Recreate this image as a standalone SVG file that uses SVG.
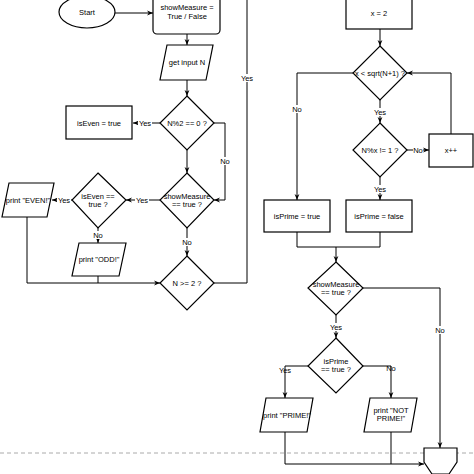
<svg xmlns="http://www.w3.org/2000/svg" width="474" height="474" viewBox="0 0 474 474">
<defs><marker id="a" viewBox="0 0 10 10" refX="10" refY="5" markerWidth="6" markerHeight="6" orient="auto"><path d="M0,1 L10,5 L0,9 L3,5 z" fill="#000"/></marker></defs>
<style>
.s{fill:#fff;stroke:#000;stroke-width:1.2}
.c{fill:none;stroke:#000;stroke-width:1;marker-end:url(#a)}
.l{fill:none;stroke:#000;stroke-width:1}
text{font-family:"Liberation Sans",Arial,sans-serif;font-size:7.5px;text-anchor:middle;fill:#000}
.lb{font-size:6.5px}
.bg{fill:#fff}
</style>
<rect width="474" height="474" fill="#fff"/>
<line x1="0" y1="453" x2="474" y2="453" stroke="#aaa" stroke-dasharray="4,3"/>
<g id="connectors">
<path class="c" d="M115,13 H153"/>
<path class="c" d="M187,34 V45"/>
<path class="c" d="M187,80 V96"/>
<path class="c" d="M160,123 H133"/>
<path class="c" d="M214,123 H225 V200 H214"/>
<path class="c" d="M187,150 V173"/>
<path class="c" d="M160,200 H126"/>
<path class="c" d="M72,200 H52"/>
<path class="c" d="M98,228 V243"/>
<path class="c" d="M27,217 V283 H160"/>
<path class="l" d="M98,283 V276"/>
<path class="c" d="M187,228 V256"/>
<path class="l" d="M214,283 H247 V0"/>
<path class="c" d="M380,29 V46"/>
<path class="c" d="M353,73 H297 V200"/>
<path class="c" d="M380,100 V123"/>
<path class="c" d="M407,150 H429"/>
<path class="c" d="M451,134 V73 H407"/>
<path class="c" d="M380,177 V200"/>
<path class="l" d="M297,232 V247 H380 V232"/>
<path class="c" d="M336,247 V262"/>
<path class="c" d="M363,288 H440 V448"/>
<path class="c" d="M336,315 V338"/>
<path class="c" d="M308,366 H285 V398"/>
<path class="c" d="M363,366 H391 V398"/>
<path class="c" d="M285,432 V464 H424"/>
<path class="l" d="M391,432 V464"/>
<g class="lb">
<rect class="bg" x="138" y="119" width="14" height="8"/><text x="145" y="125.5">Yes</text>
<rect class="bg" x="220" y="157" width="10" height="8"/><text x="225" y="163.5">No</text>
<rect class="bg" x="135" y="196" width="14" height="8"/><text x="142" y="202.5">Yes</text>
<rect class="bg" x="57" y="196" width="14" height="8"/><text x="64" y="202.5">Yes</text>
<rect class="bg" x="93" y="231" width="10" height="8"/><text x="98" y="237.5">No</text>
<rect class="bg" x="182" y="238" width="10" height="8"/><text x="187" y="244.5">No</text>
<rect class="bg" x="240" y="74" width="14" height="8"/><text x="247" y="80.5">Yes</text>
<rect class="bg" x="292" y="105" width="10" height="8"/><text x="297" y="111.5">No</text>
<rect class="bg" x="373" y="108" width="14" height="8"/><text x="380" y="114.5">Yes</text>
<rect class="bg" x="413" y="146" width="10" height="8"/><text x="418" y="152.5">No</text>
<rect class="bg" x="373" y="185" width="14" height="8"/><text x="380" y="191.5">Yes</text>
<rect class="bg" x="435" y="326" width="10" height="8"/><text x="440" y="332.5">No</text>
<rect class="bg" x="329" y="323" width="14" height="8"/><text x="336" y="329.5">Yes</text>
<text x="285" y="373">Yes</text>
<text x="391" y="371">No</text>
</g>
</g>
<g id="start"><ellipse class="s" cx="87" cy="12" rx="28" ry="16"/><text x="87" y="15">Start</text></g>
<g id="showMeasureInit"><rect class="s" x="153" y="-5" width="67" height="39" rx="4"/><text x="187" y="10">showMeasure =</text><text x="187" y="19">True / False</text></g>
<g id="getInput"><polygon class="s" points="167,45 213,45 206,80 160,80"/><text x="187" y="65">get input N</text></g>
<g id="mod2"><polygon class="s" points="187,96 214,123 187,150 160,123"/><text x="187" y="126">N%2 == 0 ?</text></g>
<g id="isEvenTrue"><rect class="s" x="66" y="106" width="66" height="33"/><text x="99" y="126">isEven = true</text></g>
<g id="showMeasure1"><polygon class="s" points="187,173 214,200 187,228 160,200"/><text x="187" y="199">showMeasure</text><text x="187" y="207">== true ?</text></g>
<g id="isEvenCheck"><polygon class="s" points="98,173 126,200 98,228 72,200"/><text x="98" y="199">isEven ==</text><text x="98" y="207">true ?</text></g>
<g id="printEven"><polygon class="s" points="9,183 54,183 47,217 2,217"/><text x="28" y="203">print "EVEN!"</text></g>
<g id="printOdd"><polygon class="s" points="79,243 126,243 119,276 72,276"/><text x="99" y="262">print "ODD!"</text></g>
<g id="nGe2"><polygon class="s" points="187,256 214,283 187,310 160,283"/><text x="187" y="286">N &gt;= 2 ?</text></g>
<g id="xInit"><rect class="s" x="346" y="-5" width="66" height="34"/><text x="379" y="16">x = 2</text></g>
<g id="xLoop"><polygon class="s" points="380,46 407,73 380,100 353,73"/><text x="380" y="76">x &lt; sqrt(N+1) ?</text></g>
<g id="modX"><polygon class="s" points="380,123 407,150 380,177 353,150"/><text x="380" y="153">N%x != 1 ?</text></g>
<g id="xInc"><rect class="s" x="429" y="134" width="44" height="33"/><text x="451" y="153">x++</text></g>
<g id="isPrimeTrue"><rect class="s" x="264" y="200" width="66" height="32"/><text x="297" y="219">isPrime = true</text></g>
<g id="isPrimeFalse"><rect class="s" x="346" y="200" width="66" height="32"/><text x="379" y="219">isPrime = false</text></g>
<g id="showMeasure2"><polygon class="s" points="336,262 363,288 336,315 308,288"/><text x="336" y="287">showMeasure</text><text x="336" y="295">== true ?</text></g>
<g id="isPrimeCheck"><polygon class="s" points="336,338 363,366 336,393 308,366"/><text x="336" y="364">isPrime</text><text x="336" y="372">== true ?</text></g>
<g id="printPrime"><polygon class="s" points="266,398 313,398 307,432 260,432"/><text x="287" y="418">print "PRIME!"</text></g>
<g id="printNotPrime"><polygon class="s" points="370,398 417,398 411,432 364,432"/><text x="391" y="413">print "NOT</text><text x="391" y="421">PRIME!"</text></g>
<g id="offPage"><polygon class="s" points="424,448 457,448 457,462 449,474 432,474 424,462"/></g>
</svg>
